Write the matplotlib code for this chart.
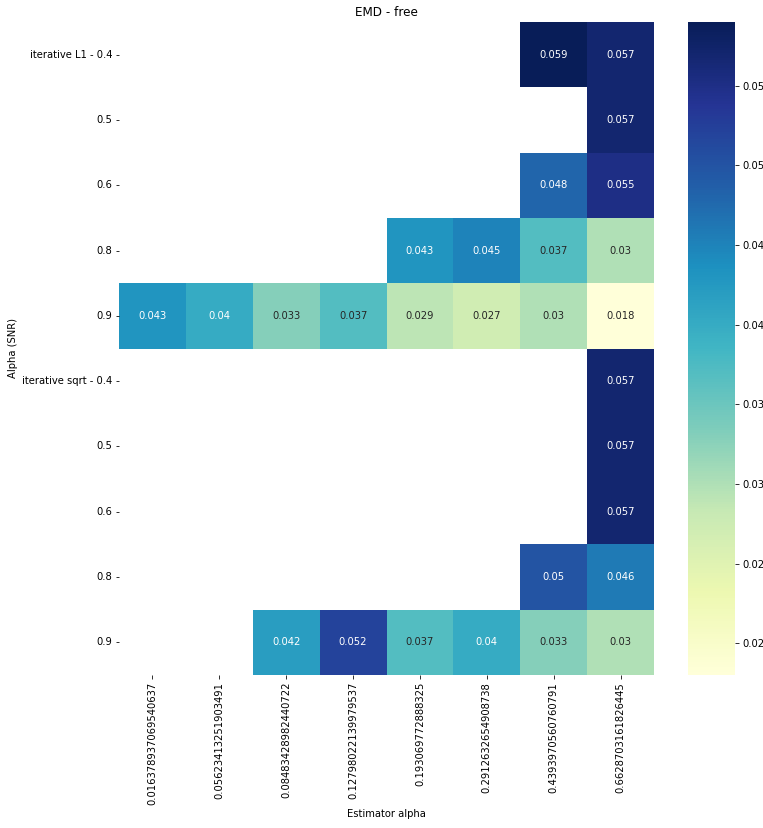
import matplotlib
matplotlib.use('Agg')
import matplotlib.pyplot as plt
import numpy as np
import pandas as pd
import seaborn as sns

nan = np.nan
rows = ['iterative L1 - 0.4', '0.5', '0.6', '0.8', '0.9',
        'iterative sqrt - 0.4', '0.5', '0.6', '0.8', '0.9']
cols = ['0.016378937069540637', '0.05623413251903491', '0.08483428982440722',
        '0.12798022139979537', '0.193069772888325', '0.2912632654908738',
        '0.4393970560760791', '0.6628703161826445']
values = [
    [nan, nan, nan, nan, nan, nan, 0.059, 0.057],
    [nan, nan, nan, nan, nan, nan, nan, 0.057],
    [nan, nan, nan, nan, nan, nan, 0.048, 0.055],
    [nan, nan, nan, nan, 0.043, 0.045, 0.037, 0.030],
    [0.043, 0.040, 0.033, 0.037, 0.029, 0.027, 0.030, 0.018],
    [nan, nan, nan, nan, nan, nan, nan, 0.057],
    [nan, nan, nan, nan, nan, nan, nan, 0.057],
    [nan, nan, nan, nan, nan, nan, nan, 0.057],
    [nan, nan, nan, nan, nan, nan, 0.050, 0.046],
    [nan, nan, 0.042, 0.052, 0.037, 0.040, 0.033, 0.030],
]

df = pd.DataFrame(values, index=rows, columns=cols)

W, H = 763, 828
fig = plt.figure(figsize=(W / 72, H / 72), dpi=72)
ax = fig.add_axes([119 / W, 1 - 675 / H, (654 - 119) / W, (675 - 22) / H])
cax = fig.add_axes([688 / W, 1 - 675 / H, (735 - 688) / W, (675 - 22) / H])
sns.heatmap(df, annot=True, cmap='YlGnBu', ax=ax, cbar_ax=cax, fmt='.2g')
ax.set_title('EMD - free')
ax.set_xlabel('Estimator alpha')
ax.set_ylabel('Alpha (SNR)')
ax.tick_params(axis='y', rotation=0)
fig.savefig('out.png', dpi=72)
